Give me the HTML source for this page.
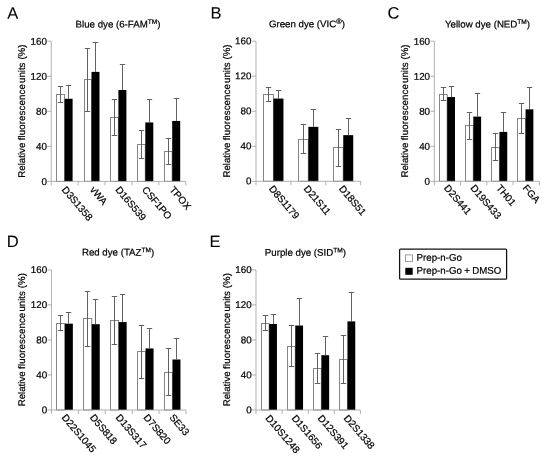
<!DOCTYPE html>
<html lang="en">
<head>
<meta charset="utf-8">
<title>Relative fluorescence units by dye channel</title>
<style>
html,body{margin:0;padding:0;background:#fff;}
body{width:550px;height:462px;overflow:hidden;}
svg{display:block;font-family:'Liberation Sans', Arial, sans-serif;fill:#000;text-rendering:geometricPrecision;}
text{stroke:#000;stroke-width:0.22px;}
</style>
</head>
<body>
<svg width="550" height="462" viewBox="0 0 550 462">
<rect width="550" height="462" fill="#fff"/>
<g>
<text transform="translate(7.2 18.8) rotate(0.03)" font-size="16.5" style="stroke-width:0.06px">A</text>
<text transform="translate(75.6 27.4) rotate(0.03)" font-size="9.7">Blue dye (6-FAM<tspan dy="-3.4" font-size="6.6">TM</tspan><tspan dy="3.4">)</tspan></text>
<text transform="translate(25.35 177.7) rotate(-90)" font-size="9.7">Relative <tspan dx="-0.3" letter-spacing="0.11">fluorescence</tspan><tspan dx="-1.65"> units</tspan><tspan dx="0.25"> (%)</tspan></text>
<rect x="56.5" y="94.5" width="8.1" height="86.9" fill="#fff" stroke="#868686" stroke-width="1"/>
<rect x="64.6" y="98.77" width="8" height="82.63" fill="#000"/>
<path d="M60.5 86.5V102.5M57.8 86.5H63.2M57.8 102.5H63.2" stroke="#505050" stroke-width="0.9" fill="none"/>
<path d="M68.5 85.5V98.77M65.8 85.5H71.2" stroke="#505050" stroke-width="0.9" fill="none"/>
<text transform="translate(61.3 190) rotate(49.5)" font-size="9.9">D3S1358</text>
<rect x="84.5" y="79.5" width="7" height="101.9" fill="#fff" stroke="#868686" stroke-width="1"/>
<rect x="91.5" y="71.87" width="8" height="109.53" fill="#000"/>
<path d="M87.5 48.5V111.5M84.8 48.5H90.2M84.8 111.5H90.2" stroke="#505050" stroke-width="0.9" fill="none"/>
<path d="M95.5 42.5V71.87M92.8 42.5H98.2" stroke="#505050" stroke-width="0.9" fill="none"/>
<text transform="translate(89.6 190) rotate(49.5)" font-size="9.9">vWA</text>
<rect x="110.5" y="117.5" width="7.9" height="63.9" fill="#fff" stroke="#868686" stroke-width="1"/>
<rect x="118.4" y="90.01" width="8" height="91.39" fill="#000"/>
<path d="M114.5 99.5V135.5M111.8 99.5H117.2M111.8 135.5H117.2" stroke="#505050" stroke-width="0.9" fill="none"/>
<path d="M122.5 64.5V90.01M119.8 64.5H125.2" stroke="#505050" stroke-width="0.9" fill="none"/>
<text transform="translate(114.9 190) rotate(49.5)" font-size="9.9">D16S539</text>
<rect x="137.5" y="144.5" width="7.8" height="36.9" fill="#fff" stroke="#868686" stroke-width="1"/>
<rect x="145.3" y="122.43" width="8" height="58.97" fill="#000"/>
<path d="M141.5 130.5V158.5M138.8 130.5H144.2M138.8 158.5H144.2" stroke="#505050" stroke-width="0.9" fill="none"/>
<path d="M149.5 99.5V122.43M146.8 99.5H152.2" stroke="#505050" stroke-width="0.9" fill="none"/>
<text transform="translate(141.6 190) rotate(49.5)" font-size="9.9">CSF1PO</text>
<rect x="164.5" y="151.5" width="7.7" height="29.9" fill="#fff" stroke="#868686" stroke-width="1"/>
<rect x="172.2" y="120.94" width="8" height="60.46" fill="#000"/>
<path d="M168.5 138.5V164.5M165.8 138.5H171.2M165.8 164.5H171.2" stroke="#505050" stroke-width="0.9" fill="none"/>
<path d="M176.5 98.5V120.94M173.8 98.5H179.2" stroke="#505050" stroke-width="0.9" fill="none"/>
<text transform="translate(169.1 190) rotate(49.5)" font-size="9.9">TPOX</text>
<path d="M51.25 41.2V181.4H185.75M47.25 181.4H51.25M47.25 146.35H51.25M47.25 111.3H51.25M47.25 76.25H51.25M47.25 41.2H51.25M51.25 181.4V185.4M78.15 181.4V185.4M105.05 181.4V185.4M131.95 181.4V185.4M158.85 181.4V185.4M185.75 181.4V185.4" stroke="#a4a4a4" stroke-width="0.85" fill="none"/>
<text transform="translate(46.95 184.9) rotate(0.03)" text-anchor="end" font-size="9.8">0</text>
<text transform="translate(46.95 149.85) rotate(0.03)" text-anchor="end" font-size="9.8">40</text>
<text transform="translate(46.95 114.8) rotate(0.03)" text-anchor="end" font-size="9.8">80</text>
<text transform="translate(46.95 79.75) rotate(0.03)" text-anchor="end" font-size="9.8">120</text>
<text transform="translate(46.95 44.7) rotate(0.03)" text-anchor="end" font-size="9.8">160</text>
</g>
<g>
<text transform="translate(210.6 18.4) rotate(0.03)" font-size="16.5" style="stroke-width:0.06px">B</text>
<text transform="translate(268.9 27.3) rotate(0.03)" font-size="9.7">Green dye (VIC<tspan dy="-3.5" font-size="7.4">®</tspan><tspan dy="3.5">)</tspan></text>
<text transform="translate(229.6 177.6) rotate(-90)" font-size="9.7">Relative <tspan dx="-0.3" letter-spacing="0.11">fluorescence</tspan><tspan dx="-1.65"> units</tspan><tspan dx="0.25"> (%)</tspan></text>
<rect x="263.5" y="94.5" width="9.95" height="86.8" fill="#fff" stroke="#868686" stroke-width="1"/>
<rect x="273.45" y="98.55" width="10" height="82.75" fill="#000"/>
<path d="M268.5 87.5V101.5M265.8 87.5H271.2M265.8 101.5H271.2" stroke="#505050" stroke-width="0.9" fill="none"/>
<path d="M278.5 90.5V98.55M275.8 90.5H281.2" stroke="#505050" stroke-width="0.9" fill="none"/>
<text transform="translate(268.45 189) rotate(49.5)" font-size="9.9">D8S1179</text>
<rect x="298.5" y="139.5" width="9.85" height="41.8" fill="#fff" stroke="#868686" stroke-width="1"/>
<rect x="308.35" y="126.84" width="10" height="54.46" fill="#000"/>
<path d="M303.5 124.5V153.5M300.8 124.5H306.2M300.8 153.5H306.2" stroke="#505050" stroke-width="0.9" fill="none"/>
<path d="M313.5 109.5V126.84M310.8 109.5H316.2" stroke="#505050" stroke-width="0.9" fill="none"/>
<text transform="translate(303.35 189) rotate(49.5)" font-size="9.9">D21S11</text>
<rect x="333.5" y="147.5" width="9.75" height="33.8" fill="#fff" stroke="#868686" stroke-width="1"/>
<rect x="343.25" y="135.15" width="10" height="46.15" fill="#000"/>
<path d="M338.5 129.5V166.5M335.8 129.5H341.2M335.8 166.5H341.2" stroke="#505050" stroke-width="0.9" fill="none"/>
<path d="M348.5 118.5V135.15M345.8 118.5H351.2" stroke="#505050" stroke-width="0.9" fill="none"/>
<text transform="translate(338.45 189) rotate(49.5)" font-size="9.9">D18S51</text>
<path d="M256 41.2V181.3H360.7M252 181.3H256M252 146.28H256M252 111.25H256M252 76.22H256M252 41.2H256M256 181.3V185.3M290.9 181.3V185.3M325.8 181.3V185.3M360.7 181.3V185.3" stroke="#a4a4a4" stroke-width="0.85" fill="none"/>
<text transform="translate(251.35 184.3) rotate(0.03)" text-anchor="end" font-size="9.8">0</text>
<text transform="translate(251.35 149.28) rotate(0.03)" text-anchor="end" font-size="9.8">40</text>
<text transform="translate(251.35 114.25) rotate(0.03)" text-anchor="end" font-size="9.8">80</text>
<text transform="translate(251.35 79.22) rotate(0.03)" text-anchor="end" font-size="9.8">120</text>
<text transform="translate(251.35 44.2) rotate(0.03)" text-anchor="end" font-size="9.8">160</text>
</g>
<g>
<text transform="translate(387.5 18.6) rotate(0.03)" font-size="16.5" style="stroke-width:0.06px">C</text>
<text transform="translate(445 27.4) rotate(0.03)" font-size="9.7">Yellow dye (NED<tspan dy="-3.4" font-size="6.6">TM</tspan><tspan dy="3.4">)</tspan></text>
<text transform="translate(407.85 177.6) rotate(-90)" font-size="9.7">Relative <tspan dx="-0.3" letter-spacing="0.11">fluorescence</tspan><tspan dx="-1.65"> units</tspan><tspan dx="0.25"> (%)</tspan></text>
<rect x="439.5" y="94.5" width="7.68" height="86.8" fill="#fff" stroke="#868686" stroke-width="1"/>
<rect x="447.18" y="97.06" width="7.8" height="84.24" fill="#000"/>
<path d="M443.5 87.5V100.5M440.8 87.5H446.2M440.8 100.5H446.2" stroke="#505050" stroke-width="0.9" fill="none"/>
<path d="M451.5 86.5V97.06M448.8 86.5H454.2" stroke="#505050" stroke-width="0.9" fill="none"/>
<text transform="translate(443.52 188.3) rotate(49.5)" font-size="9.9">D2S441</text>
<rect x="465.5" y="125.5" width="7.81" height="55.8" fill="#fff" stroke="#868686" stroke-width="1"/>
<rect x="473.31" y="116.59" width="7.8" height="64.71" fill="#000"/>
<path d="M469.5 112.5V139.5M466.8 112.5H472.2M466.8 139.5H472.2" stroke="#505050" stroke-width="0.9" fill="none"/>
<path d="M477.5 93.5V116.59M474.8 93.5H480.2" stroke="#505050" stroke-width="0.9" fill="none"/>
<text transform="translate(469.97 188.3) rotate(49.5)" font-size="9.9">D19S433</text>
<rect x="491.5" y="147.5" width="7.94" height="33.8" fill="#fff" stroke="#868686" stroke-width="1"/>
<rect x="499.44" y="131.91" width="7.8" height="49.39" fill="#000"/>
<path d="M495.5 133.5V160.5M492.8 133.5H498.2M492.8 160.5H498.2" stroke="#505050" stroke-width="0.9" fill="none"/>
<path d="M503.5 112.5V131.91M500.8 112.5H506.2" stroke="#505050" stroke-width="0.9" fill="none"/>
<text transform="translate(495.73 188.3) rotate(49.5)" font-size="9.9">TH01</text>
<rect x="517.5" y="118.5" width="8.07" height="62.8" fill="#fff" stroke="#868686" stroke-width="1"/>
<rect x="525.57" y="109.32" width="7.8" height="71.98" fill="#000"/>
<path d="M521.5 103.5V133.5M518.8 103.5H524.2M518.8 133.5H524.2" stroke="#505050" stroke-width="0.9" fill="none"/>
<path d="M529.5 87.5V109.32M526.8 87.5H532.2" stroke="#505050" stroke-width="0.9" fill="none"/>
<text transform="translate(522.26 188.3) rotate(49.5)" font-size="9.9">FGA</text>
<path d="M434.35 41.2V181.3H539.35M430.35 181.3H434.35M430.35 146.28H434.35M430.35 111.25H434.35M430.35 76.22H434.35M430.35 41.2H434.35M434.35 181.3V185.3M460.6 181.3V185.3M486.85 181.3V185.3M513.1 181.3V185.3M539.35 181.3V185.3" stroke="#a4a4a4" stroke-width="0.85" fill="none"/>
<text transform="translate(430.05 184.8) rotate(0.03)" text-anchor="end" font-size="9.8">0</text>
<text transform="translate(430.05 149.78) rotate(0.03)" text-anchor="end" font-size="9.8">40</text>
<text transform="translate(430.05 114.75) rotate(0.03)" text-anchor="end" font-size="9.8">80</text>
<text transform="translate(430.05 79.72) rotate(0.03)" text-anchor="end" font-size="9.8">120</text>
<text transform="translate(430.05 44.7) rotate(0.03)" text-anchor="end" font-size="9.8">160</text>
</g>
<g>
<text transform="translate(6.7 247) rotate(0.03)" font-size="16.5" style="stroke-width:0.06px">D</text>
<text transform="translate(81.9 255.6) rotate(0.03)" font-size="9.7">Red dye (TAZ<tspan dy="-3.4" font-size="6.6">TM</tspan><tspan dy="3.4">)</tspan></text>
<text transform="translate(25.05 406.3) rotate(-90)" font-size="9.7">Relative <tspan dx="-0.3" letter-spacing="0.11">fluorescence</tspan><tspan dx="-1.65"> units</tspan><tspan dx="0.25"> (%)</tspan></text>
<rect x="56.5" y="323.5" width="8.35" height="86.5" fill="#fff" stroke="#868686" stroke-width="1"/>
<rect x="64.85" y="323.66" width="8" height="86.34" fill="#000"/>
<path d="M60.5 315.5V330.5M57.8 315.5H63.2M57.8 330.5H63.2" stroke="#505050" stroke-width="0.9" fill="none"/>
<path d="M68.5 312.5V323.66M65.8 312.5H71.2" stroke="#505050" stroke-width="0.9" fill="none"/>
<text transform="translate(61.15 417.8) rotate(49.5)" font-size="9.9">D22S1045</text>
<rect x="83.5" y="318.5" width="8.25" height="91.5" fill="#fff" stroke="#868686" stroke-width="1"/>
<rect x="91.75" y="324.19" width="8" height="85.81" fill="#000"/>
<path d="M87.5 291.5V346.5M84.8 291.5H90.2M84.8 346.5H90.2" stroke="#505050" stroke-width="0.9" fill="none"/>
<path d="M95.5 299.5V324.19M92.8 299.5H98.2" stroke="#505050" stroke-width="0.9" fill="none"/>
<text transform="translate(89.45 417.8) rotate(49.5)" font-size="9.9">D5S818</text>
<rect x="110.5" y="320.5" width="8.15" height="89.5" fill="#fff" stroke="#868686" stroke-width="1"/>
<rect x="118.65" y="322.09" width="8" height="87.91" fill="#000"/>
<path d="M114.5 296.5V344.5M111.8 296.5H117.2M111.8 344.5H117.2" stroke="#505050" stroke-width="0.9" fill="none"/>
<path d="M122.5 294.5V322.09M119.8 294.5H125.2" stroke="#505050" stroke-width="0.9" fill="none"/>
<text transform="translate(115.25 417.8) rotate(49.5)" font-size="9.9">D13S317</text>
<rect x="137.5" y="351.5" width="8.05" height="58.5" fill="#fff" stroke="#868686" stroke-width="1"/>
<rect x="145.55" y="348.44" width="8" height="61.56" fill="#000"/>
<path d="M141.5 325.5V378.5M138.8 325.5H144.2M138.8 378.5H144.2" stroke="#505050" stroke-width="0.9" fill="none"/>
<path d="M149.5 328.5V348.44M146.8 328.5H152.2" stroke="#505050" stroke-width="0.9" fill="none"/>
<text transform="translate(143.05 417.8) rotate(49.5)" font-size="9.9">D7S820</text>
<rect x="164.5" y="372.5" width="7.95" height="37.5" fill="#fff" stroke="#868686" stroke-width="1"/>
<rect x="172.45" y="359.48" width="8" height="50.52" fill="#000"/>
<path d="M168.5 348.5V395.5M165.8 348.5H171.2M165.8 395.5H171.2" stroke="#505050" stroke-width="0.9" fill="none"/>
<path d="M176.5 338.5V359.48M173.8 338.5H179.2" stroke="#505050" stroke-width="0.9" fill="none"/>
<text transform="translate(169.05 417.8) rotate(49.5)" font-size="9.9">SE33</text>
<path d="M51.45 269.9V410H185.95M47.45 410H51.45M47.45 374.98H51.45M47.45 339.95H51.45M47.45 304.92H51.45M47.45 269.9H51.45M51.45 410V414M78.35 410V414M105.25 410V414M132.15 410V414M159.05 410V414M185.95 410V414" stroke="#a4a4a4" stroke-width="0.85" fill="none"/>
<text transform="translate(47.15 413.2) rotate(0.03)" text-anchor="end" font-size="9.8">0</text>
<text transform="translate(47.15 378.18) rotate(0.03)" text-anchor="end" font-size="9.8">40</text>
<text transform="translate(47.15 343.15) rotate(0.03)" text-anchor="end" font-size="9.8">80</text>
<text transform="translate(47.15 308.12) rotate(0.03)" text-anchor="end" font-size="9.8">120</text>
<text transform="translate(47.15 273.1) rotate(0.03)" text-anchor="end" font-size="9.8">160</text>
</g>
<g>
<text transform="translate(209.6 247) rotate(0.03)" font-size="16.5" style="stroke-width:0.06px">E</text>
<text transform="translate(264.8 255.8) rotate(0.03)" font-size="9.7">Purple dye (SID<tspan dy="-3.4" font-size="6.6">TM</tspan><tspan dy="3.4">)</tspan></text>
<text transform="translate(229.6 406.3) rotate(-90)" font-size="9.7">Relative <tspan dx="-0.3" letter-spacing="0.11">fluorescence</tspan><tspan dx="-1.65"> units</tspan><tspan dx="0.25"> (%)</tspan></text>
<rect x="261.5" y="323.5" width="7.65" height="86.5" fill="#fff" stroke="#868686" stroke-width="1"/>
<rect x="269.15" y="324.01" width="7.8" height="85.99" fill="#000"/>
<path d="M265.5 315.5V330.5M262.8 315.5H268.2M262.8 330.5H268.2" stroke="#505050" stroke-width="0.9" fill="none"/>
<path d="M273.5 314.5V324.01M270.8 314.5H276.2" stroke="#505050" stroke-width="0.9" fill="none"/>
<text transform="translate(265.05 418.4) rotate(49.5)" font-size="9.9">D10S1248</text>
<rect x="287.5" y="346.5" width="7.75" height="63.5" fill="#fff" stroke="#868686" stroke-width="1"/>
<rect x="295.25" y="325.5" width="7.8" height="84.5" fill="#000"/>
<path d="M291.5 325.5V366.5M288.8 325.5H294.2M288.8 366.5H294.2" stroke="#505050" stroke-width="0.9" fill="none"/>
<path d="M299.5 298.5V325.5M296.8 298.5H302.2" stroke="#505050" stroke-width="0.9" fill="none"/>
<text transform="translate(291.15 418.4) rotate(49.5)" font-size="9.9">D1S1656</text>
<rect x="313.5" y="368.5" width="7.85" height="41.5" fill="#fff" stroke="#868686" stroke-width="1"/>
<rect x="321.35" y="355.19" width="7.8" height="54.81" fill="#000"/>
<path d="M317.5 353.5V383.5M314.8 353.5H320.2M314.8 383.5H320.2" stroke="#505050" stroke-width="0.9" fill="none"/>
<path d="M325.5 336.5V355.19M322.8 336.5H328.2" stroke="#505050" stroke-width="0.9" fill="none"/>
<text transform="translate(317.25 418.4) rotate(49.5)" font-size="9.9">D12S391</text>
<rect x="339.5" y="359.5" width="7.95" height="50.5" fill="#fff" stroke="#868686" stroke-width="1"/>
<rect x="347.45" y="321.39" width="7.8" height="88.61" fill="#000"/>
<path d="M343.5 335.5V383.5M340.8 335.5H346.2M340.8 383.5H346.2" stroke="#505050" stroke-width="0.9" fill="none"/>
<path d="M351.5 292.5V321.39M348.8 292.5H354.2" stroke="#505050" stroke-width="0.9" fill="none"/>
<text transform="translate(343.35 418.4) rotate(49.5)" font-size="9.9">D2S1338</text>
<path d="M256 269.9V410H360.4M252 410H256M252 374.98H256M252 339.95H256M252 304.92H256M252 269.9H256M256 410V414M282.1 410V414M308.2 410V414M334.3 410V414M360.4 410V414" stroke="#a4a4a4" stroke-width="0.85" fill="none"/>
<text transform="translate(251.7 413.2) rotate(0.03)" text-anchor="end" font-size="9.8">0</text>
<text transform="translate(251.7 378.18) rotate(0.03)" text-anchor="end" font-size="9.8">40</text>
<text transform="translate(251.7 343.15) rotate(0.03)" text-anchor="end" font-size="9.8">80</text>
<text transform="translate(251.7 308.12) rotate(0.03)" text-anchor="end" font-size="9.8">120</text>
<text transform="translate(251.7 273.1) rotate(0.03)" text-anchor="end" font-size="9.8">160</text>
</g>
<g>
<rect x="399.6" y="249.0" width="107" height="30.2" rx="0.9" fill="#fff" stroke="#111" stroke-width="1.25"/>
<rect x="405.5" y="254.9" width="7" height="6.7" fill="#fff" stroke="#888" stroke-width="0.8"/>
<rect x="405.3" y="267.8" width="7.4" height="7" fill="#000"/>
<text transform="translate(416.6 260.8) rotate(0.03)" font-size="9.7">Prep-n-Go</text>
<text transform="translate(416.6 273.7) rotate(0.03)" font-size="9.7" word-spacing="-0.3">Prep-n-Go + DMSO</text>
</g>
</svg>
</body>
</html>
